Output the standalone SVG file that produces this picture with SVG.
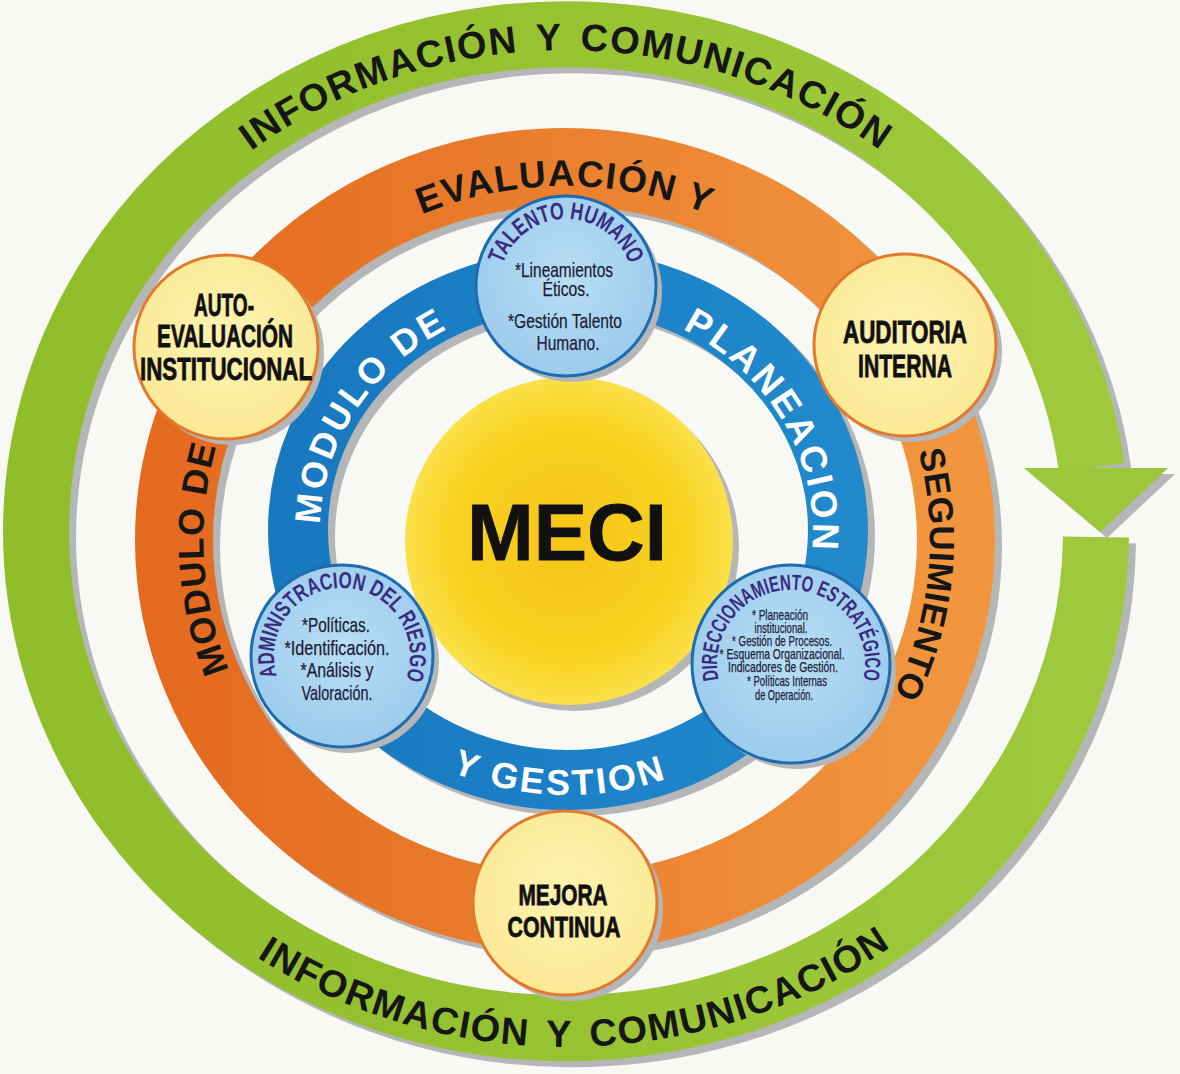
<svg xmlns="http://www.w3.org/2000/svg" width="1180" height="1074" viewBox="0 0 1180 1074">
<defs>
<style>
.sh{fill:none;stroke:#b4b6b8}
.shf{fill:#b4b6b8}
.rt{font-family:"Liberation Sans",Arial,sans-serif;font-weight:bold;fill:#161616}
.wt{font-family:"Liberation Sans",Arial,sans-serif;font-weight:bold;fill:#ffffff}
.lbl{font-family:"Liberation Sans",Arial,sans-serif;font-weight:bold;fill:#111;stroke:#111;stroke-width:0.8;text-anchor:middle}
.arc{font-family:"Liberation Sans",Arial,sans-serif;font-weight:bold;fill:#3a2b82}
.body{font-family:"Liberation Sans",Arial,sans-serif;fill:#1d1d38;stroke:#1d1d38;stroke-width:0.25;text-anchor:middle}
.lb{fill:url(#gLB);stroke:#1e6cb0;stroke-width:3}
.cr{fill:url(#gCR);stroke:#e27a2e;stroke-width:3}
</style>
<linearGradient id="gOr" x1="0" y1="0" x2="1" y2="0">
<stop offset="0" stop-color="#e46a1f"/><stop offset="1" stop-color="#f1963f"/>
</linearGradient>
<linearGradient id="gBl" x1="0" y1="0" x2="1" y2="0">
<stop offset="0" stop-color="#1878c0"/><stop offset="1" stop-color="#2189cc"/>
</linearGradient>
<linearGradient id="gGr" x1="0" y1="0" x2="1" y2="0">
<stop offset="0" stop-color="#90bd2a"/><stop offset="1" stop-color="#9ec93c"/>
</linearGradient>
<radialGradient id="gMe" cx="0.5" cy="0.5" r="0.5">
<stop offset="0" stop-color="#f6c41a"/><stop offset="0.7" stop-color="#f8d21e"/><stop offset="1" stop-color="#fbe04a"/>
</radialGradient>
<radialGradient id="gLB" cx="0.5" cy="0.45" r="0.55">
<stop offset="0" stop-color="#b9def5"/><stop offset="1" stop-color="#9ccbec"/>
</radialGradient>
<radialGradient id="gCR" cx="0.5" cy="0.45" r="0.55">
<stop offset="0" stop-color="#fdf3b0"/><stop offset="1" stop-color="#fbe996"/>
</radialGradient>
<path id="pGrTop" d="M 52 531 A 514 481 0 0 1 1080 531"/>
<path id="pGrBot" d="M 17 531 A 549 516 0 0 0 1115 531"/>
<path id="pOrTop" d="M 200 540 A 365 354 0 0 1 930 540"/>
<path id="pOrLeft" d="M 584.1 893.5 A 365 354 0 0 1 545.9 186.5"/>
<path id="pOrRight" d="M 600 187.6 A 365 354 0 0 1 530 892.4"/>
<path id="pBlLeft" d="M 444 729.2 A 248 230 0 0 1 692 330.8"/>
<path id="pBlRight" d="M 455.4 325.1 A 248 230 0 0 1 680.6 734.9"/>
<path id="pBlBot" d="M 283 530 A 285 265 0 0 0 853 530"/>
<path id="pTal" d="M 499 286 A 67 67 0 0 1 633 286"/>
<path id="pAdm" d="M 289.9 699.7 A 68 68 0 1 1 391.7 702.4"/>
<path id="pDir" d="M 738.7 716.3 A 74 74 0 1 1 843.3 716.3"/>
</defs>
<rect width="1180" height="1074" fill="#f8f8f4"/>

<g id="connectors">
<g transform="translate(7,6)">
<path class="sh" stroke-width="66" d="M 1096 537 A 530 497 0 1 1 1091.7 467.8"/>
<polygon class="shf" points="1024,468 1168,468 1100,532"/>
</g>
<path fill="none" stroke="url(#gGr)" stroke-width="66" d="M 1096 537 A 530 497 0 1 1 1091.7 467.8"/>
<polygon fill="#9cc73a" points="1024,468 1168,468 1100,532"/>
<text class="rt" font-size="38" letter-spacing="1.5" word-spacing="6"><textPath href="#pGrTop" startOffset="50%" text-anchor="middle">INFORMACIÓN Y COMUNICACIÓN</textPath></text>
<text class="rt" font-size="38" letter-spacing="1.5" word-spacing="6"><textPath href="#pGrBot" startOffset="50.6%" text-anchor="middle">INFORMACIÓN Y COMUNICACIÓN</textPath></text>
</g>

<g id="band-orange">
<ellipse class="sh" cx="572" cy="546" rx="391" ry="373" stroke-width="78"/>
<ellipse cx="565" cy="540" rx="391" ry="373" fill="none" stroke="url(#gOr)" stroke-width="78"/>
<text class="rt" font-size="37" letter-spacing="1.5"><textPath href="#pOrTop" startOffset="50%" text-anchor="middle">EVALUACIÓN Y</textPath></text>
<text class="rt" font-size="36" letter-spacing="1"><textPath href="#pOrLeft" startOffset="50%" text-anchor="middle">MODULO DE</textPath></text>
<text class="rt" font-size="35" letter-spacing="0.5"><textPath href="#pOrRight" startOffset="50%" text-anchor="middle">SEGUIMIENTO</textPath></text>
</g>

<g id="band-blue">
<ellipse class="sh" cx="575" cy="536" rx="270" ry="250" stroke-width="60"/>
<ellipse cx="568" cy="530" rx="270" ry="250" fill="none" stroke="url(#gBl)" stroke-width="60"/>
<text class="wt" font-size="36" letter-spacing="3"><textPath href="#pBlLeft" startOffset="50%" text-anchor="middle">MODULO DE</textPath></text>
<text class="wt" font-size="37" letter-spacing="3"><textPath href="#pBlRight" startOffset="50%" text-anchor="middle">PLANEACION</textPath></text>
<text class="wt" font-size="36" letter-spacing="3"><textPath href="#pBlBot" startOffset="49%" text-anchor="middle">Y GESTION</textPath></text>
</g>

<g id="node-meci">
<circle class="shf" cx="575" cy="547" r="164"/>
<circle cx="569" cy="541" r="164" fill="url(#gMe)"/>
<text class="lbl" x="567" y="560" font-size="80" textLength="200" lengthAdjust="spacingAndGlyphs" stroke-width="1.5">MECI</text>
</g>

<g id="node-talento">
<circle class="shf" cx="572" cy="292" r="90"/>
<circle class="lb" cx="566" cy="286" r="90"/>
<text class="arc" font-size="24"><textPath href="#pTal" startOffset="50%" text-anchor="middle" textLength="166" lengthAdjust="spacingAndGlyphs">TALENTO HUMANO</textPath></text>
<text class="body" font-size="21" x="564" y="277" textLength="98" lengthAdjust="spacingAndGlyphs">*Lineamientos</text>
<text class="body" font-size="21" x="566" y="296" textLength="47" lengthAdjust="spacingAndGlyphs">Éticos.</text>
<text class="body" font-size="21" x="565" y="328" textLength="114" lengthAdjust="spacingAndGlyphs">*Gestión Talento</text>
<text class="body" font-size="21" x="568" y="350" textLength="63" lengthAdjust="spacingAndGlyphs">Humano.</text>
</g>

<g id="node-autoevaluacion">
<circle class="shf" cx="232" cy="353" r="92"/>
<circle class="cr" cx="226" cy="347" r="92"/>
<text class="lbl" font-size="31" x="224" y="316" textLength="60" lengthAdjust="spacingAndGlyphs">AUTO-</text>
<text class="lbl" font-size="31" x="225" y="347" textLength="136" lengthAdjust="spacingAndGlyphs">EVALUACIÓN</text>
<text class="lbl" font-size="31" x="226" y="380" textLength="172" lengthAdjust="spacingAndGlyphs">INSTITUCIONAL</text>
</g>

<g id="node-auditoria">
<circle class="shf" cx="911" cy="351" r="91"/>
<circle class="cr" cx="905" cy="345" r="91"/>
<text class="lbl" font-size="31" x="905" y="343" textLength="124" lengthAdjust="spacingAndGlyphs">AUDITORIA</text>
<text class="lbl" font-size="31" x="905" y="377" textLength="94" lengthAdjust="spacingAndGlyphs">INTERNA</text>
</g>

<g id="node-mejora">
<circle class="shf" cx="571" cy="909" r="92"/>
<circle class="cr" cx="565" cy="903" r="92"/>
<text class="lbl" font-size="30" x="563" y="905" textLength="89" lengthAdjust="spacingAndGlyphs">MEJORA</text>
<text class="lbl" font-size="30" x="564" y="937" textLength="113" lengthAdjust="spacingAndGlyphs">CONTINUA</text>
</g>

<g id="node-administracion">
<circle class="shf" cx="348" cy="662" r="91"/>
<circle class="lb" cx="342" cy="656" r="91"/>
<text class="arc" font-size="23"><textPath href="#pAdm" startOffset="50%" text-anchor="middle" textLength="258" lengthAdjust="spacingAndGlyphs">ADMINISTRACION DEL RIESGO</textPath></text>
<text class="body" font-size="21" x="336" y="632" textLength="68" lengthAdjust="spacingAndGlyphs">*Políticas.</text>
<text class="body" font-size="21" x="337" y="655" textLength="105" lengthAdjust="spacingAndGlyphs">*Identificación.</text>
<text class="body" font-size="21" x="337" y="677" textLength="73" lengthAdjust="spacingAndGlyphs">*Análisis y</text>
<text class="body" font-size="21" x="337" y="700" textLength="71" lengthAdjust="spacingAndGlyphs">Valoración.</text>
</g>

<g id="node-direccionamiento">
<circle class="shf" cx="797" cy="670" r="99"/>
<circle class="lb" cx="791" cy="664" r="99"/>
<text class="arc" font-size="22"><textPath href="#pDir" startOffset="50%" text-anchor="middle" textLength="264" lengthAdjust="spacingAndGlyphs">DIRECCIONAMIENTO ESTRATÉGICO</textPath></text>
<text class="body" font-size="15" x="780" y="620" textLength="56" lengthAdjust="spacingAndGlyphs">* Planeación</text>
<text class="body" font-size="15" x="781" y="633" textLength="53" lengthAdjust="spacingAndGlyphs">institucional.</text>
<text class="body" font-size="15" x="782" y="646" textLength="100" lengthAdjust="spacingAndGlyphs">* Gestión de Procesos.</text>
<text class="body" font-size="15" x="782" y="659" textLength="125" lengthAdjust="spacingAndGlyphs">* Esquema Organizacional.</text>
<text class="body" font-size="15" x="783" y="672" textLength="110" lengthAdjust="spacingAndGlyphs">Indicadores de Gestión.</text>
<text class="body" font-size="15" x="787" y="686" textLength="80" lengthAdjust="spacingAndGlyphs">* Políticas Internas</text>
<text class="body" font-size="15" x="784" y="700" textLength="58" lengthAdjust="spacingAndGlyphs">de Operación.</text>
</g>
</svg>
